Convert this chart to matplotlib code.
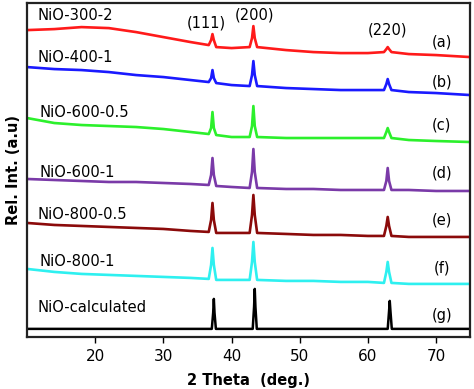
import matplotlib
matplotlib.use("Agg")
import matplotlib.pyplot as plt

# 2-theta sample points shared by the measured patterns
two_theta = [10, 14, 18, 22, 26, 30, 34, 36.65, 37.0, 37.2, 37.4, 37.75, 40,
             42.65, 43.0, 43.2, 43.4, 43.75, 48, 52, 56, 60,
             62.35, 62.7, 62.9, 63.1, 63.45, 66, 70, 75]

# stacked intensities (offset already included)
nio_300_2 = [307, 308, 310, 309, 305, 300, 295, 292, 297, 303, 297, 290, 289,
             290, 299, 311, 299, 290, 287, 285, 284, 284,
             285, 288, 290, 288, 285, 283, 282, 280]
nio_400_1 = [270, 268, 267, 265, 262, 260, 257, 255, 259, 267, 259, 254, 252,
             251, 262, 276, 262, 251, 249, 248, 247, 247,
             247, 253, 258, 253, 247, 245, 244, 242]
nio_600_05 = [219, 214, 212, 211, 210, 208, 205, 203, 209, 225, 209, 202, 200,
              200, 211, 231, 211, 200, 199, 199, 199, 199,
              199, 205, 209, 205, 199, 197, 196, 195]
nio_600_1 = [158, 157, 156, 155, 155, 154, 153, 152, 162, 179, 162, 151, 150,
             149, 165, 188, 165, 149, 148, 148, 147, 147,
             147, 156, 169, 156, 147, 147, 146, 146]
nio_800_05 = [114, 112, 111, 110, 109, 108, 106, 105, 117, 134, 117, 104, 104,
              104, 122, 142, 122, 104, 103, 102, 102, 101,
              101, 111, 120, 111, 101, 100, 100, 100]
nio_800_1 = [68, 65, 63, 62, 61, 60, 59, 58, 72, 89, 72, 57, 57,
             57, 75, 95, 75, 57, 56, 56, 55, 55,
             54, 65, 75, 65, 54, 53, 53, 53]

# calculated pattern
calc_theta = [10, 37.1, 37.3, 37.4, 37.5, 37.7, 43.1, 43.3, 43.4, 43.5, 43.7,
              62.9, 63.1, 63.2, 63.3, 63.5, 75]
nio_calc = [8, 8, 24, 38, 24, 8, 8, 30, 48, 30, 8, 8, 26, 36, 26, 8, 8]

names = ["NiO-300-2", "NiO-400-1", "NiO-600-0.5", "NiO-600-1",
         "NiO-800-0.5", "NiO-800-1", "NiO-calculated"]
letters = ["(a)", "(b)", "(c)", "(d)", "(e)", "(f)", "(g)"]
colors = ["#ff1a1a", "#1a1aff", "#2cf02c", "#7a3aa8", "#8b0a0a", "#2ef0f0", "black"]

plt.rcParams["font.family"] = "DejaVu Sans"
fig = plt.figure(figsize=(4.74, 3.89), dpi=100)
ax = fig.add_axes([0.057, 0.134, 0.935, 0.858])

patterns = [nio_300_2, nio_400_1, nio_600_05, nio_600_1, nio_800_05, nio_800_1]
for y, c in zip(patterns, colors[:6]):
    ax.plot(two_theta, y, color=c, lw=1.9)
ax.plot(calc_theta, nio_calc, color="black", lw=1.8)

# sample names on the left
name_pos = [(11.5, 322), (11.5, 280), (11.9, 225), (11.9, 164),
            (11.5, 122), (11.9, 75), (11.5, 29)]
for (x, y), n in zip(name_pos, names):
    ax.text(x, y, n, fontsize=10.6, va="center", ha="left")

# letters on the right
letter_y = [295, 255, 212, 164, 117, 69, 21]
for y, l in zip(letter_y, letters):
    ax.text(70.8, y, l, fontsize=10.5, va="center", ha="center")

# Miller indices
ax.text(36.3, 314, "(111)", fontsize=10.5, ha="center", va="center")
ax.text(43.4, 322, "(200)", fontsize=10.5, ha="center", va="center")
ax.text(62.8, 307, "(220)", fontsize=10.5, ha="center", va="center")

ax.set_xlim(10, 75)
ax.set_ylim(0, 334)
ax.set_xticks([20, 30, 40, 50, 60, 70])
ax.set_yticks([])
ax.tick_params(axis="x", direction="out", length=4, width=1, labelsize=11, pad=5)
for s in ax.spines.values():
    s.set_linewidth(1.6)
    s.set_color("#222222")

ax.set_xlabel("2 Theta  (deg.)", fontsize=10.5, fontweight="bold", labelpad=6)
ax.set_ylabel("Rel. Int. (a.u)", fontsize=10.5, fontweight="bold", labelpad=4)

fig.savefig("out.png", dpi=100)
